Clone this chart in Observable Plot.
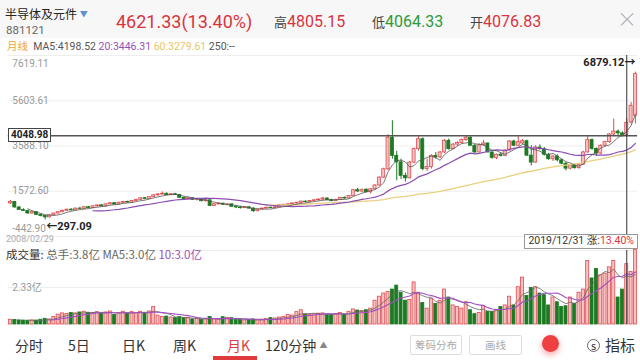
<!DOCTYPE html>
<html><head><meta charset="utf-8">
<script src="https://cdn.jsdelivr.net/npm/d3@7"></script>
<script src="https://cdn.jsdelivr.net/npm/@observablehq/plot@0.6"></script>
<style>
html,body{margin:0;padding:0}
body{width:640px;height:360px;overflow:hidden;background:#fff;position:relative;font-family:"Noto Sans CJK SC","Noto Sans",Roboto,sans-serif;color:#333}
.abs{position:absolute;white-space:nowrap;line-height:1;z-index:5}
.num{font-family:"Liberation Sans Narrow",Roboto,sans-serif}
.plot{position:absolute;left:0}
.plot svg{overflow:visible}
#hdr{position:absolute;left:0;top:0;width:640px;height:38px;background:#f7f7f7}
.red{color:#d9343e}.grn{color:#2e9a3a}
</style></head><body>
<div id="hdr"></div>
<div class="abs" style="left:5px;top:8px;font-size:12px;color:#222">半导体及元件 <span style="color:#5b8fd6;font-size:8px;vertical-align:2px">▼</span></div>
<div class="abs" style="left:6px;top:25px;font-size:11.5px;color:#666;font-family:Roboto">881121</div>
<div class="abs num red" style="left:116px;top:13px;font-size:18px">4621.33(13.40%)</div>
<div class="abs" style="left:274px;top:14px;font-size:13px;color:#444">高<span class="num red" style="font-size:16px">4805.15</span></div>
<div class="abs" style="left:372px;top:14px;font-size:13px;color:#444">低<span class="num grn" style="font-size:16px">4064.33</span></div>
<div class="abs" style="left:470px;top:14px;font-size:13px;color:#444">开<span class="num red" style="font-size:16px">4076.83</span></div>
<div class="abs" style="left:617px;top:9px;font-size:20px;color:#aaa;font-weight:200">×</div>
<div class="abs" style="left:7px;top:41px;font-size:10.5px;font-family:Roboto,'Noto Sans CJK SC'">
<span style="color:#f0a43a;font-family:'Noto Sans CJK SC'">月线</span>&nbsp; <span style="color:#555">MA5:4198.52</span> <span style="color:#9a4fb8">20:3446.31</span> <span style="color:#e6c765">60:3279.61</span> <span style="color:#555">250:--</span></div>
<div id="price" class="plot" style="top:45px"></div>
<div id="vol" class="plot" style="top:245px"></div>
<div class="abs" style="left:6px;top:235px;font-size:9px;color:#aaa;font-family:Roboto">2008/02/29</div>
<div class="abs" style="left:6px;top:249px;font-size:11.5px;color:#666">
<span style="color:#333">成交量:</span> 总手:3.8亿 MA5:3.0亿 <span style="color:#9a4fb8">10:3.0亿</span></div>
<div id="crossBox" class="abs" style="left:8px;font-size:10px;font-weight:bold;color:#222;background:#fff;border:1px solid #444;padding:1px 2px;font-family:Roboto">4048.98</div>
<div class="abs" style="right:2px;top:234px;font-size:10.5px;color:#333;background:#fff;border:1px solid #999;padding:1px 3px;font-family:Roboto,'Noto Sans CJK SC'">2019/12/31 涨:<span class="red">13.40%</span></div>
<div class="abs" style="left:15px;top:338px;font-size:14px">分时</div>
<div class="abs" style="left:68px;top:338px;font-size:14px">5日</div>
<div class="abs" style="left:122px;top:338px;font-size:14px">日K</div>
<div class="abs" style="left:173px;top:338px;font-size:14px">周K</div>
<div class="abs" style="left:227px;top:338px;font-size:14px;color:#e03a3a">月K</div>
<div class="abs" style="left:265px;top:338px;font-size:14px">120分钟 <span style="font-size:8px;color:#888;vertical-align:3px">▲</span></div>
<div class="abs" style="left:213px;top:356px;width:44px;height:4px;background:#e03a3a"></div>
<div class="abs" style="left:410px;top:335px;width:50px;height:18px;border:1px solid #ddd;border-radius:2px;font-size:10.5px;color:#aaa;text-align:center;line-height:18px">筹码分布</div>
<div class="abs" style="left:469px;top:335px;width:51px;height:18px;border:1px solid #ddd;border-radius:2px;font-size:10.5px;color:#aaa;text-align:center;line-height:18px">画线</div>
<div class="abs" style="left:542px;top:335px;width:17px;height:17px;border-radius:50%;background:#ee4040;box-shadow:0 3px 6px rgba(238,64,64,0.45)"></div>
<div class="abs" style="left:587px;top:337px;font-size:15px;color:#333"><span style="font-size:11px;display:inline-block;width:11px;height:11px;border:1px solid #666;border-radius:50%;text-align:center;line-height:11px;vertical-align:1px;margin-right:5px">s</span>指标</div>
<script>
// ---- data ----
const startMonth = "2008-02", endMonth = "2020-02";
const open = [1030,1090,850,740,700,580,640,520,470,410,
500,580,640,700,750,720,800,780,860,830,
900,940,900,990,1040,980,1060,1100,1070,1140,
1190,1260,1230,1310,1390,1430,1460,1400,1440,1410,
1280,1210,1260,1190,1210,1130,1170,920,990,1020,
970,990,880,850,820,860,800,680,760,800,
840,820,860,950,970,990,1030,1060,1110,1090,
1140,1170,1200,1250,1180,1130,1190,1280,1250,1360,
1620,1560,1640,1530,1660,1830,2180,2550,3960,3150,
2860,2260,2150,2850,3450,3890,2560,2650,3150,3080,
3300,3820,3450,3650,3720,3850,3960,3600,3300,3620,
3700,3300,3060,3200,3150,3390,3790,3600,3700,3800,
3160,2850,3520,3450,3200,3000,3120,2950,2800,2580,
2720,2600,2750,3300,3850,3460,3250,3600,3760,4100,
4230,4150,4076.83,4640,4935];
const high = [1160,1110,900,790,720,680,660,560,490,520,
600,660,730,780,800,820,860,880,900,920,
960,980,1010,1060,1070,1080,1120,1130,1160,1210,
1280,1290,1330,1420,1460,1540,1500,1470,1480,1420,
1310,1280,1270,1230,1220,1190,1180,1010,1050,1040,
1010,1000,930,900,880,870,840,780,820,860,
870,880,970,990,1010,1050,1080,1130,1140,1160,
1190,1230,1300,1270,1210,1210,1300,1320,1380,1650,
1700,1660,1680,1690,1860,2210,2600,4090,4712,3350,
3000,2380,2900,3500,4050,3950,3000,3200,3300,3350,
3880,3900,3700,3780,3900,4060,3990,3650,3680,3830,
3720,3330,3230,3290,3420,3830,3850,4060,3880,3850,
3600,3600,3640,3520,3260,3160,3200,3000,2850,2760,
2780,2800,3350,4050,3900,3500,3640,3800,4150,4786,
4300,4220,4805.15,5530,6879.12];
const low = [990,820,720,680,560,560,500,430,297.09,380,
480,560,620,680,700,700,760,770,800,820,
870,880,890,960,960,970,1030,1040,1060,1110,
1170,1200,1220,1290,1350,1400,1380,1370,1380,1260,
1180,1190,1170,1140,1100,1080,900,890,960,950,
930,860,800,780,800,780,640,660,740,790,
800,810,840,900,930,970,990,1040,1060,1070,
1100,1140,1150,1150,1110,1120,1180,1220,1240,1350,
1530,1520,1500,1450,1640,1800,2140,2500,3000,2040,
2100,1980,2120,2800,3350,2480,2450,2560,3000,3020,
3250,3400,3420,3580,3680,3800,3560,3250,3280,3580,
3280,3000,2980,3100,3120,3360,3560,3580,3650,3120,
2700,2820,3400,3140,2950,2900,2880,2750,2480,2520,
2560,2560,2740,3280,3400,3120,3200,3550,3700,4050,
4000,3990,4064.33,4560,4570];
const close = [1100,850,740,700,580,640,520,470,410,500,
580,640,700,750,720,800,780,860,830,900,
940,900,990,1040,980,1060,1100,1070,1140,1190,
1260,1230,1310,1390,1430,1460,1400,1440,1410,1280,
1210,1260,1190,1210,1130,1170,920,990,1020,970,
990,880,850,820,860,800,680,760,800,840,
820,860,950,970,990,1030,1060,1110,1090,1140,
1170,1200,1250,1180,1130,1190,1280,1250,1360,1620,
1560,1640,1530,1660,1830,2180,2550,3960,3150,2860,
2260,2150,2850,3450,3890,2560,2650,3150,3080,3300,
3820,3450,3650,3720,3850,3960,3600,3300,3620,3700,
3300,3060,3200,3150,3390,3790,3600,3760,3800,3160,
2850,3520,3450,3200,3000,3120,2950,2800,2580,2720,
2600,2750,3300,3850,3460,3250,3600,3760,4100,4230,
4150,4077,4621.33,5380,6790];
// volume in 亿
const volume = [0.30,0.28,0.26,0.25,0.24,0.26,0.25,0.30,0.36,0.32,
0.48,0.62,0.70,0.66,0.72,0.70,0.76,0.80,0.74,0.72,
0.78,0.70,0.76,0.82,0.60,0.72,0.80,0.70,0.78,0.72,
0.80,0.74,0.82,1.10,0.56,0.48,0.50,0.44,0.40,0.46,
0.40,0.42,0.32,0.36,0.30,0.34,0.48,0.32,0.30,0.46,
0.42,0.40,0.30,0.28,0.26,0.28,0.32,0.28,0.30,0.34,
0.40,0.38,0.44,0.48,0.60,0.56,0.78,0.90,0.62,0.60,
0.64,0.68,0.70,0.62,0.60,0.66,0.72,0.64,0.80,0.95,
0.88,0.85,0.90,1.00,1.50,1.75,1.95,2.05,2.20,2.45,
2.00,1.50,1.55,2.65,2.00,1.35,1.00,1.60,1.30,1.50,
2.20,1.70,1.20,1.10,1.00,1.40,0.90,0.65,0.72,1.15,
0.80,0.80,0.90,1.10,1.20,1.75,1.20,2.35,2.95,1.80,
2.30,2.35,1.95,1.85,1.20,1.70,1.40,1.10,1.15,1.70,
1.30,2.00,2.20,4.00,2.90,3.50,3.10,3.20,3.60,4.00,
1.70,2.20,3.80,3.30,4.70];
const priceTicks = [-442.90, 1572.60, 3588.10, 5603.61, 7619.11];
const volTicks = [2.33, 4.66];
const crossMonth = "2019/12";
const crossValue = 4048.98;

// ---- build ----
const fmt = d3.utcFormat("%Y/%m");
const months = d3.utcMonth.range(new Date(startMonth + "-01"), d3.utcMonth.offset(new Date(endMonth + "-01"), 1)).map(fmt);
const rows = months.map((m, i) => ({m, o: open[i], h: high[i], l: low[i], c: close[i], v: volume[i]}));
const isUp = d => d.c >= d.o;
const UP = "#df4b50", UPFILL = "#f6c3c3", DOWN = "#1b7a22";
const xOpt = {type: "band", domain: months, paddingInner: 0.3, paddingOuter: 0.15, axis: null};
const common = {width: 640, marginLeft: 7.8, marginRight: 2.9, color: {type: "identity"},
  style: {background: "transparent", fontFamily: "Roboto, 'Noto Sans CJK SC', sans-serif", overflow: "visible"}};
const maxRow = rows.reduce((a, b) => b.h > a.h ? b : a);
const minRow = rows.reduce((a, b) => b.l < a.l ? b : a);

const P = Plot.plot({
  ...common, height: 200, marginTop: 10, marginBottom: 9,
  x: xOpt,
  y: {domain: [priceTicks[0], priceTicks[priceTicks.length - 1]], axis: null},
  marks: [
    Plot.ruleY(priceTicks, {stroke: "#eeeeee"}),
    Plot.ruleX(rows, {x: "m", y1: "l", y2: "h", stroke: d => isUp(d) ? UP : DOWN, strokeWidth: 1}),
    Plot.barY(rows, {x: "m", y1: "o", y2: "c", fill: d => isUp(d) ? UPFILL : DOWN, stroke: d => isUp(d) ? UP : DOWN, strokeWidth: 0.8}),
    Plot.lineY(rows, Plot.windowY({k: 60, anchor: "end", strict: true}, {x: "m", y: "c", stroke: "#e8d07e", strokeWidth: 1.3})),
    Plot.lineY(rows, Plot.windowY({k: 20, anchor: "end", strict: true}, {x: "m", y: "c", stroke: "#8c4db3", strokeWidth: 1.2})),
    Plot.lineY(rows, Plot.windowY({k: 5, anchor: "end", strict: true}, {x: "m", y: "c", stroke: "#555", strokeWidth: 0.8})),
    Plot.ruleY([crossValue], {stroke: "#555", strokeWidth: 1.5}),
    Plot.ruleX([crossMonth], {stroke: "#333", strokeWidth: 1}),
    Plot.text(priceTicks.slice(-1), {y: d => d, text: d => d.toFixed(2), frameAnchor: "left", textAnchor: "start", lineAnchor: "top", dx: 4, dy: 4, fill: "#999", fontSize: 10}),
    Plot.text(priceTicks.slice(1, -1), {y: d => d, text: d => d.toFixed(2), frameAnchor: "left", textAnchor: "start", lineAnchor: "middle", dx: 4, fill: "#999", fontSize: 10}),
    Plot.text(priceTicks.slice(0, 1), {y: d => d, text: d => d.toFixed(2), frameAnchor: "left", textAnchor: "start", lineAnchor: "bottom", dx: 4, dy: -5, fill: "#999", fontSize: 10}),
    Plot.text([maxRow], {x: "m", y: "h", text: d => d.h.toFixed(2) + "→", textAnchor: "end", dy: -10, fill: "#222", fontWeight: "bold", fontSize: 11}),
    Plot.text([minRow], {x: "m", y: "l", text: d => "←" + d.l.toFixed(2), textAnchor: "start", dx: 1, dy: 7, fill: "#222", fontWeight: "bold", fontSize: 11})
  ]
});
document.getElementById("price").append(P);

const V = Plot.plot({
  ...common, height: 85, marginTop: 5, marginBottom: 6,
  x: xOpt,
  y: {domain: [0, volTicks[1]], axis: null},
  marks: [
    Plot.ruleY(volTicks, {stroke: "#eeeeee"}),
    Plot.barY(rows, {x: "m", y: "v", fill: d => isUp(d) ? UPFILL : DOWN, stroke: d => isUp(d) ? UP : DOWN, strokeWidth: 0.8}),
    Plot.lineY(rows, Plot.windowY({k: 5, anchor: "end", strict: true}, {x: "m", y: "v", stroke: "#666", strokeWidth: 0.8})),
    Plot.lineY(rows, Plot.windowY({k: 10, anchor: "end", strict: true}, {x: "m", y: "v", stroke: "#a24fc4", strokeWidth: 1.1})),
    Plot.ruleX([crossMonth], {stroke: "#333", strokeWidth: 1}),
    Plot.text(volTicks.slice(0, 1), {y: d => d, text: d => d + "亿", frameAnchor: "left", textAnchor: "start", lineAnchor: "middle", dx: 4, fill: "#999", fontSize: 10})
  ]
});
document.getElementById("vol").append(V);

// position the crosshair value box from the price scale
const cy = 45 + P.scale("y").apply(crossValue);
document.getElementById("crossBox").style.top = (cy - 7) + "px";
</script>
</body></html>
